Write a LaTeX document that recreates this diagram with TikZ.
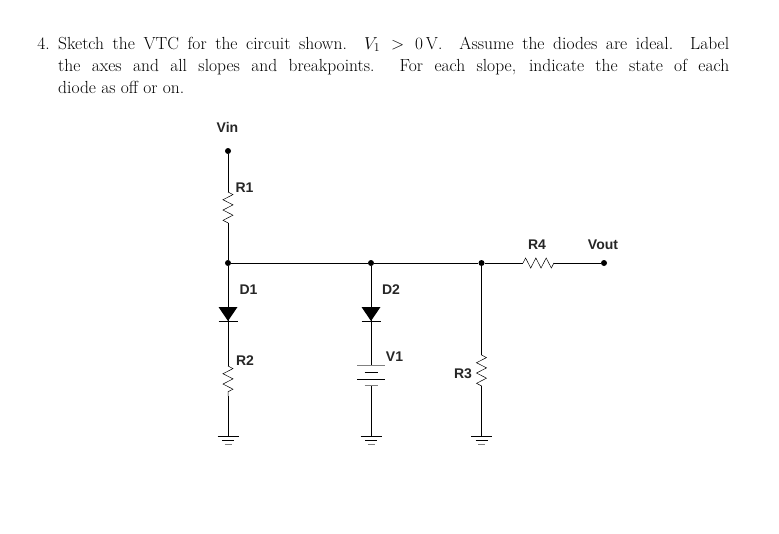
\documentclass[tikz,border=0pt]{standalone}
\usepackage{fontspec}
\usepackage{amsmath}
\usetikzlibrary{calc,decorations.pathmorphing}
\newfontfamily\lblfont{Liberation Sans}
\tikzset{
  wire/.style={line width=1pt},
  zig/.style={line width=0.5pt,decorate,decoration={zigzag,segment length=10.3pt,amplitude=5pt}},
  lbl/.style={font=\lblfont\bfseries\fontsize{14}{16}\selectfont,inner sep=0pt,text=black!85},
  dot/.style={circle,fill=black,inner sep=0pt,minimum size=6pt},
  para/.style={font=\fontsize{17.5}{22}\selectfont\addfontfeature{LetterSpace=3.5},inner sep=0pt}
}
\newcommand{\dio}[1]{
  \fill (#1) ++(-9.5,-14) -- ++(19,0) -- ++(-9.5,14) -- cycle;
  \draw[wire] (#1) ++(-9.5,0) -- ++(19,0);
}
\newcommand{\gnd}[1]{
  \draw[wire] (#1) ++(-10.5,0) -- ++(21,0);
  \draw[wire] (#1) ++(-6,4) -- ++(12,0);
  \draw[wire,black!50] (#1) ++(-3.5,8) -- ++(7,0);
}
\begin{document}
\begin{tikzpicture}[x=1pt,y=-1pt]
  \useasboundingbox (0,0) rectangle (779,533);
  % the question
  \node[para,anchor=base east] (num) at (50,49) {4.};
  \node[para,anchor=base west,text width=671pt,align=justify] (txt) at (58,49)
    {Sketch the VTC for the circuit shown. $V_1>0\,\mathrm{V}$. Assume the diodes are ideal. Label\linebreak
     the axes and all slopes and breakpoints. For each slope, indicate the state of each\linebreak
     diode as oﬀ or on.};
  % terminals and junctions
  \node[dot] (vin) at (228,151) {};
  \node[dot] (j1) at (228,263) {};
  \node[dot] (j2) at (371,263) {};
  \node[dot] (j3) at (481.5,263) {};
  \node[dot] (vout) at (604,263) {};
  \coordinate (r1a) at (228,192);
  \coordinate (r1b) at (228,223);
  \coordinate (d1) at (228,321);
  \coordinate (r2a) at (228,366);
  \coordinate (r2b) at (228,396);
  \coordinate (g1) at (228,436);
  \coordinate (d2) at (371,321);
  \coordinate (v1a) at (371,365);
  \coordinate (v1b) at (371,385);
  \coordinate (g2) at (371,436);
  \coordinate (r3a) at (481.5,355);
  \coordinate (r3b) at (481.5,386);
  \coordinate (g3) at (481.5,436);
  \coordinate (r4a) at (523,263);
  \coordinate (r4b) at (554,263);
  % wires
  \draw[wire] (vin) -- (r1a);
  \draw[zig] (r1a) -- (r1b);
  \draw[wire] (r1b) -- (j1);
  \draw[wire] (j1) -- (j2);
  \draw[wire] (j2) -- (j3);
  \draw[wire] (j3) -- (r4a);
  \draw[zig] (r4a) -- (r4b);
  \draw[wire] (r4b) -- (vout);
  \draw[wire] (j1) -- (d1);
  \draw[wire] (d1) -- (r2a);
  \draw[zig] (r2a) -- (r2b);
  \draw[wire] (r2b) -- (g1);
  \draw[wire] (j2) -- (d2);
  \draw[wire] (d2) -- (v1a);
  \draw[wire] (v1b) -- (g2);
  \draw[wire] (j3) -- (r3a);
  \draw[zig] (r3a) -- (r3b);
  \draw[wire] (r3b) -- (g3);
  \dio{d1}
  \dio{d2}
  \gnd{g1}
  \gnd{g2}
  \gnd{g3}
  % the battery
  \draw[wire,black!50] (v1a) ++(-14,0) -- ++(28,0);
  \draw[wire] (v1a) ++(-6.5,7) -- ++(13,0);
  \draw[wire] (v1a) ++(-14,14) -- ++(28,0);
  \draw[wire,black!50] (v1a) ++(-6.5,20) -- ++(13,0);
  % labels
  \node[lbl] (lvin) at (227.5,127.5) {Vin};
  \node[lbl] (lr1) at (244.5,187.5) {R1};
  \node[lbl] (ld1) at (248.5,289.5) {D1};
  \node[lbl] (ld2) at (391,289.5) {D2};
  \node[lbl] (lr2) at (245,360.5) {R2};
  \node[lbl] (lv1) at (394.5,356.5) {V1};
  \node[lbl] (lr3) at (463,373.5) {R3};
  \node[lbl] (lr4) at (537,244.5) {R4};
  \node[lbl] (lvout) at (603,244.5) {Vout};
\end{tikzpicture}
\end{document}
